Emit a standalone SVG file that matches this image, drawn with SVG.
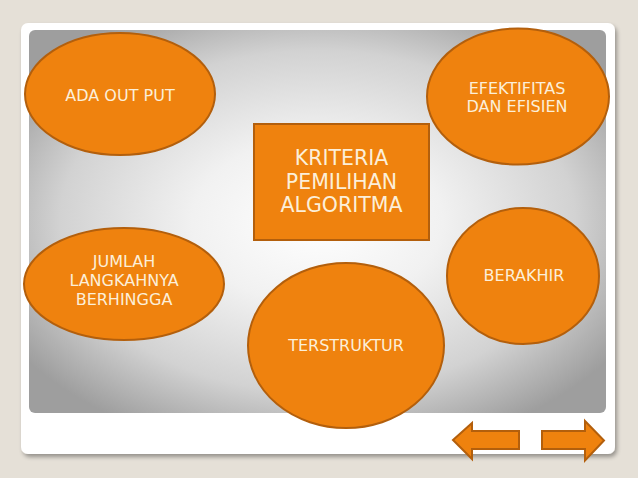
<svg xmlns="http://www.w3.org/2000/svg" width="638" height="478" viewBox="0 0 638 478">
<defs>
<radialGradient id="panelGrad" cx="0.5" cy="0.5" r="0.62" fx="0.5" fy="0.5" gradientUnits="objectBoundingBox">
<stop offset="0" stop-color="#ffffff"/>
<stop offset="0.35" stop-color="#f1f1f1"/>
<stop offset="0.72" stop-color="#d2d2d2"/>
<stop offset="1" stop-color="#9e9e9e"/>
</radialGradient>
<filter id="shadow" x="-5%" y="-5%" width="110%" height="115%">
<feGaussianBlur in="SourceAlpha" stdDeviation="2"/>
<feOffset dx="2" dy="3" result="b"/>
<feComponentTransfer><feFuncA type="linear" slope="0.35"/></feComponentTransfer>
<feMerge><feMergeNode/><feMergeNode in="SourceGraphic"/></feMerge>
</filter>
<style>
.node{fill:#ef820e;stroke:#b35f0c;stroke-width:2}
.lbl{font-family:"DejaVu Sans",Verdana,sans-serif;font-size:16px;fill:#fcefd9;text-anchor:middle}
.big{font-size:20.5px}
.nav{fill:#ef820e;stroke:#b35f0c;stroke-width:2;stroke-linejoin:miter}
</style>
</defs>
<rect x="0" y="0" width="638" height="478" fill="#e5e0d7"/>
<rect x="21" y="23" width="594" height="431" rx="7" fill="#ffffff" filter="url(#shadow)"/>
<rect x="29" y="30" width="577" height="383" rx="6" fill="url(#panelGrad)"/>
<g id="connectors"></g>
<g id="node-ada-output">
<ellipse class="node" cx="120" cy="94" rx="95" ry="61"/>
<text class="lbl" x="120" y="101">ADA OUT PUT</text>
</g>
<g id="node-efektifitas">
<ellipse class="node" cx="518" cy="96.5" rx="91" ry="68"/>
<text class="lbl" x="517" y="93.5">EFEKTIFITAS</text>
<text class="lbl" x="517" y="111.5">DAN EFISIEN</text>
</g>
<g id="node-kriteria">
<rect class="node" x="254" y="124" width="175" height="116"/>
<text class="lbl big" x="341.5" y="165">KRITERIA</text>
<text class="lbl big" x="341.5" y="188.5">PEMILIHAN</text>
<text class="lbl big" x="341.5" y="212">ALGORITMA</text>
</g>
<g id="node-jumlah">
<ellipse class="node" cx="124" cy="284" rx="100" ry="56"/>
<text class="lbl" x="124" y="267">JUMLAH</text>
<text class="lbl" x="124" y="286">LANGKAHNYA</text>
<text class="lbl" x="124" y="305">BERHINGGA</text>
</g>
<g id="node-berakhir">
<ellipse class="node" cx="523" cy="276" rx="76" ry="68"/>
<text class="lbl" x="524" y="281">BERAKHIR</text>
</g>
<g id="node-terstruktur">
<ellipse class="node" cx="346" cy="345.5" rx="98" ry="82.5"/>
<text class="lbl" x="346" y="351">TERSTRUKTUR</text>
</g>
<polygon class="nav" points="453,440 472,423 472,431 519,431 519,449 472,449 472,459"/>
<polygon class="nav" points="542,431 585,431 585,421 604,440.5 585,460.5 585,449 542,449"/>
</svg>
